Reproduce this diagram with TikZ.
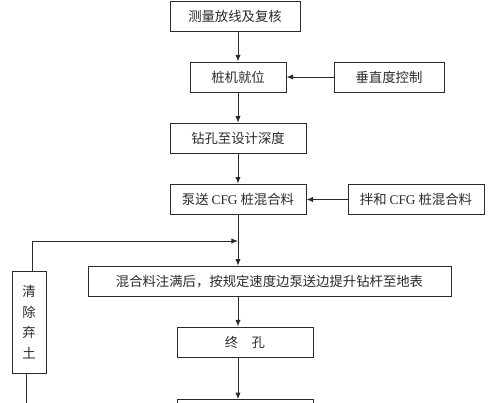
\documentclass[tikz,border=0pt]{standalone}
\usepackage{fontspec}
\setmainfont{Liberation Serif}
\newfontfamily\cjk{Noto Sans CJK SC}
\usetikzlibrary{arrows.meta, positioning, calc}
\definecolor{lineink}{HTML}{2B2B2B}
\tikzset{
  sbox/.style={draw=lineink, fill=white, align=center, inner sep=0pt,
    minimum height=9.2mm, font=\cjk\fontsize{11.4}{13}\selectfont, text=lineink, line width=0.8pt},
  vbox/.style={sbox, minimum width=10.2mm, minimum height=30.6mm, font=\cjk\fontsize{11.4}{17.5}\selectfont},
  flow/.style={-{Latex[length=2mm, width=1.6mm]}, draw=lineink, line width=0.8pt},
  link/.style={draw=lineink, line width=0.8pt}
}
\begin{document}
\begin{tikzpicture}[x=0.3mm, y=-0.3mm]
\useasboundingbox (0,0) rectangle (494,402);
\clip (0,0) rectangle (494,402);
\coordinate (spine) at (238,0);
\node[sbox, minimum width=39mm] (survey) at (235,16.5) {测量放线及复核};
\node[sbox, minimum width=28.8mm, minimum height=9mm] (place) at (238,77) {桩机就位};
\node[sbox, minimum width=33mm, minimum height=9mm] (vert) at (389,77) {垂直度控制};
\node[sbox, minimum width=40.8mm] (drill) at (238,138.5) {钻孔至设计深度};
\node[sbox, minimum width=40.8mm] (pump) at (238,199.5) {泵送 {\rmfamily CFG} 桩混合料};
\node[sbox, minimum width=40.8mm] (mix) at (416,199.5) {拌和 {\rmfamily CFG} 桩混合料};
\node[sbox, minimum width=108.9mm] (lift) at (269.5,281.5) {混合料注满后，按规定速度边泵送边提升钻杆至地表};
\node[sbox, minimum width=40.8mm, minimum height=9mm] (finish) at (245,342) {终\hspace{1em}孔};
\node[sbox, minimum width=40.8mm] (next) at (245,415) {};
\node[vbox] (clear) at (29,322) {清\\除\\弃\\土};
\coordinate (join) at (238,241);
\coordinate (loopend) at (26,410);
% main line
\draw[flow] (survey.south -| spine) -- (place.north -| spine);
\draw[flow] (place.south -| spine) -- (drill.north -| spine);
\draw[flow] (drill.south -| spine) -- (pump.north -| spine);
\draw[flow] (pump.south -| spine) -- (lift.north -| spine);
\draw[flow] (lift.south -| spine) -- (finish.north -| spine);
\draw[flow] (finish.south -| spine) -- (next.north -| spine);
% side inputs
\draw[flow] (vert.west) -- (place.east);
\draw[flow] (mix.west) -- (pump.east);
% spoil loop
\draw[link] (loopend) -- (loopend |- clear.south);
\draw[flow] ([xshift=0.9mm]clear.north) |- (join);
\end{tikzpicture}
\end{document}
